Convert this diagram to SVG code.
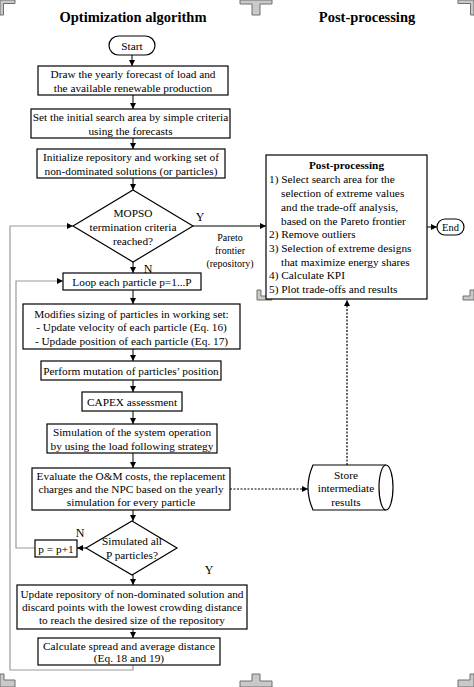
<svg xmlns="http://www.w3.org/2000/svg" width="474" height="687" viewBox="0 0 474 687">
<defs>
<marker id="ah" markerUnits="userSpaceOnUse" markerWidth="7" markerHeight="7" refX="6" refY="3" orient="auto"><path d="M0,0 L6,3 L0,6 z" fill="#000"/></marker>
<style>
.box{fill:#fff;stroke:#000;stroke-width:1.2}
.t{font-family:"Liberation Serif","Times New Roman",serif;font-size:11.3px;fill:#000;text-anchor:middle;dominant-baseline:central}
.tl{font-family:"Liberation Serif","Times New Roman",serif;font-size:11.3px;fill:#000;dominant-baseline:central}
.h{font-family:"Liberation Serif","Times New Roman",serif;font-size:14.5px;font-weight:bold;fill:#000;text-anchor:middle;dominant-baseline:central}
.c{fill:none;stroke:#000;stroke-width:1}
.g{fill:none;stroke:#9a9a9a;stroke-width:1.2}
.d{fill:none;stroke:#000;stroke-width:1.2;stroke-dasharray:2,1.5}
.fr{fill:#c9c9c9;stroke:#6e6e6e;stroke-width:1}
</style>
</defs>
<g id="frame">
<path class="fr" d="M0,0 H15 V3.5 H3.5 V15 H0 Z"/>
<path class="fr" d="M240,0 H272 V4 H260 V15 H252 V4 H240 Z"/>
<path class="fr" d="M458,0 H474 V15 H470.5 V3.5 H458 Z"/>
<path class="fr" d="M257,290 H261 V296 H272 V300 H257 Z"/>
<path class="fr" d="M463,296 H470 V290 H474 V300 H463 Z"/>
<path class="fr" d="M0,674 H4 V680 H15 V687 H0 Z"/>
<path class="fr" d="M252,674 H260 V681 H272 V687 H240 V681 H252 Z"/>
<path class="fr" d="M470,674 H474 V687 H458 V680 H470 Z"/>
</g>
<g id="titles">
<text class="h" x="133" y="17">Optimization algorithm</text>
<text class="h" x="367" y="17">Post-processing</text>
</g>
<g id="connectors">
<line class="c" x1="132" y1="55" x2="132" y2="66" marker-end="url(#ah)"/>
<line class="c" x1="133" y1="95" x2="133" y2="109" marker-end="url(#ah)"/>
<line class="c" x1="133" y1="138" x2="133" y2="149" marker-end="url(#ah)"/>
<line class="c" x1="133" y1="178" x2="133" y2="190" marker-end="url(#ah)"/>
<line class="c" x1="193" y1="226" x2="266" y2="226" marker-end="url(#ah)"/>
<line class="c" x1="133" y1="262" x2="133" y2="273" marker-end="url(#ah)"/>
<line class="c" x1="133" y1="290" x2="133" y2="304" marker-end="url(#ah)"/>
<line class="c" x1="133" y1="349" x2="133" y2="361" marker-end="url(#ah)"/>
<line class="c" x1="133" y1="380" x2="133" y2="392" marker-end="url(#ah)"/>
<line class="c" x1="133" y1="411" x2="133" y2="424" marker-end="url(#ah)"/>
<line class="c" x1="133" y1="453" x2="133" y2="468" marker-end="url(#ah)"/>
<line class="c" x1="133" y1="510" x2="133" y2="521" marker-end="url(#ah)"/>
<line class="c" x1="86" y1="548" x2="77" y2="548" marker-end="url(#ah)"/>
<line class="c" x1="133" y1="575" x2="133" y2="585" marker-end="url(#ah)"/>
<line class="c" x1="133" y1="629" x2="133" y2="638" marker-end="url(#ah)"/>
<line class="c" x1="427" y1="227" x2="437" y2="227" marker-end="url(#ah)"/>
<line class="d" x1="230" y1="489" x2="308" y2="489" marker-end="url(#ah)"/>
<line class="d" x1="347" y1="465" x2="347" y2="300" marker-end="url(#ah)"/>
<polyline class="g" points="35,548 16,548 16,281 63,281" marker-end="url(#ah)"/>
<polyline class="g" points="133,665 133,670 10,670 10,226 73,226" marker-end="url(#ah)"/>
<text class="t" x="200" y="217" style="font-size:12px">Y</text>
<text class="t" x="148" y="269" style="font-size:12px">N</text>
<text class="t" x="230" y="237" style="font-size:10px">Pareto</text>
<text class="t" x="230" y="250" style="font-size:10px">frontier</text>
<text class="t" x="230" y="263" style="font-size:10px">(repository)</text>
<text class="t" x="80" y="533" style="font-size:12px">N</text>
<text class="t" x="209" y="570" style="font-size:12px">Y</text>
</g>
<g id="start">
<rect class="box" x="109" y="36" width="46" height="19" rx="9.5"/>
<text class="t" x="132" y="45.5">Start</text>
</g>
<g id="forecast">
<rect class="box" x="38" y="66" width="190" height="29"/>
<text class="t" x="133" y="74">Draw the yearly forecast of load and</text>
<text class="t" x="133" y="87.5">the available renewable production</text>
</g>
<g id="search-area">
<rect class="box" x="31" y="109" width="199" height="29"/>
<text class="t" x="130.5" y="117">Set the initial search area by simple criteria</text>
<text class="t" x="130.5" y="130.5">using the forecasts</text>
</g>
<g id="initialize">
<rect class="box" x="37" y="149" width="188" height="29"/>
<text class="t" x="131" y="157">Initialize repository and working set of</text>
<text class="t" x="131" y="170.5">non-dominated solutions (or particles)</text>
</g>
<g id="termination">
<polygon class="box" points="133,190 193,226 133,262 73,226"/>
<text class="t" x="133" y="213">MOPSO</text>
<text class="t" x="133" y="227">termination criteria</text>
<text class="t" x="133" y="241">reached?</text>
</g>
<g id="loop">
<rect class="box" x="63" y="273" width="138" height="17"/>
<text class="t" x="132" y="281.5">Loop each particle p=1...P</text>
</g>
<g id="modifies">
<rect class="box" x="23" y="304" width="217" height="45"/>
<text class="t" x="131.5" y="313.5">Modifies sizing of particles in working set:</text>
<text class="t" x="131.5" y="327">- Update velocity of each particle (Eq. 16)</text>
<text class="t" x="131.5" y="340.5">- Updade position of each particle (Eq. 17)</text>
</g>
<g id="mutation">
<rect class="box" x="41" y="361" width="180" height="19"/>
<text class="t" x="131" y="370.5">Perform mutation of particles’ position</text>
</g>
<g id="capex">
<rect class="box" x="82" y="392" width="100" height="19"/>
<text class="t" x="132" y="401.5">CAPEX assessment</text>
</g>
<g id="simulation">
<rect class="box" x="47" y="424" width="170" height="29"/>
<text class="t" x="132" y="432">Simulation of the system operation</text>
<text class="t" x="132" y="445.5">by using the load following strategy</text>
</g>
<g id="evaluate">
<rect class="box" x="32" y="468" width="198" height="42"/>
<text class="t" x="131" y="476">Evaluate the O&amp;M costs, the replacement</text>
<text class="t" x="131" y="489">charges and the NPC based on the yearly</text>
<text class="t" x="131" y="502">simulation for every particle</text>
</g>
<g id="store">
<path class="box" d="M386,465 L313,465 Q303,487.5 313,510 L386,510"/>
<ellipse class="box" cx="386" cy="487.5" rx="7" ry="22.5"/>
<text class="t" x="346" y="474.5">Store</text>
<text class="t" x="346" y="488">intermediate</text>
<text class="t" x="346" y="501.5">results</text>
</g>
<g id="simulated-all">
<polygon class="box" points="132,521 177,548 132,575 86,548"/>
<text class="t" x="132" y="541">Simulated all</text>
<text class="t" x="132" y="555">P particles?</text>
</g>
<g id="increment">
<rect class="box" x="35" y="540" width="42" height="17"/>
<text class="t" x="56" y="548.5">p = p+1</text>
</g>
<g id="update-repository">
<rect class="box" x="17" y="585" width="230" height="44"/>
<text class="t" x="132" y="594">Update repository of non-dominated solution and</text>
<text class="t" x="132" y="607">discard points with the lowest crowding distance</text>
<text class="t" x="132" y="620">to reach the desired size of the repository</text>
</g>
<g id="calculate">
<rect class="box" x="38" y="638" width="182" height="27"/>
<text class="t" x="129" y="645.5">Calculate spread and average distance</text>
<text class="t" x="129" y="658">(Eq. 18 and 19)</text>
</g>
<g id="post-processing">
<rect class="box" x="266" y="155" width="161" height="144"/>
<text class="t" x="346.5" y="165" style="font-weight:bold">Post-processing</text>
<text class="tl" x="269" y="179">1) Select search area for the</text>
<text class="tl" x="281" y="193">selection of extreme values</text>
<text class="tl" x="281" y="207">and the trade-off analysis,</text>
<text class="tl" x="281" y="221">based on the Pareto frontier</text>
<text class="tl" x="269" y="234">2) Remove outliers</text>
<text class="tl" x="269" y="248">3) Selection of extreme designs</text>
<text class="tl" x="281" y="262">that maximize energy shares</text>
<text class="tl" x="269" y="275">4) Calculate KPI</text>
<text class="tl" x="269" y="288.5">5) Plot trade-offs and results</text>
</g>
<g id="end">
<rect class="box" x="437" y="219" width="27" height="16" rx="8"/>
<text class="t" x="450.5" y="227" style="font-size:10.5px">End</text>
</g>
</svg>
